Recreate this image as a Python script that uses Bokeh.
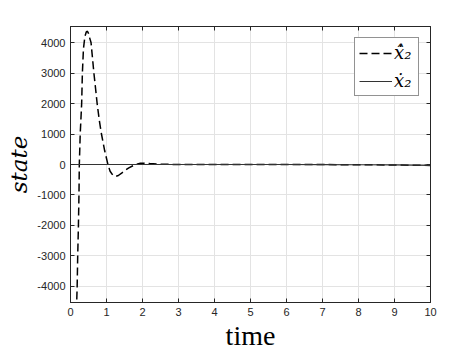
from bokeh.plotting import figure
from bokeh.models import LinearAxis, Range1d, FixedTicker, Legend, LegendItem, CustomJSTickFormatter
from bokeh.embed import file_html
from bokeh.resources import INLINE

# estimated state x2-hat-dot (dashed)
t_est = [0.0, 0.10, 0.15, 0.17, 0.185, 0.20, 0.22, 0.235, 0.245, 0.27, 0.29, 0.31, 0.33,
         0.36, 0.40, 0.44, 0.47, 0.50, 0.54, 0.57, 0.61, 0.65, 0.70, 0.74, 0.80, 0.86,
         0.95, 1.04, 1.10, 1.18, 1.25, 1.33, 1.42, 1.52, 1.62, 1.72, 1.82, 1.94, 2.05,
         2.2, 2.4, 2.7, 3.0, 4.0, 5.0, 6.0, 7.0, 8.0, 9.0, 10.0]
x2_est = [-30000, -12000, -6500, -4600, -4000, -3000, -2000, -1000, 0, 1000, 1500, 2000, 3000,
          3800, 4200, 4350, 4370, 4300, 4120, 4000, 3500, 3000, 2450, 2000, 1450, 1000,
          450, 0, -220, -360, -390, -360, -280, -190, -110, -50, 0, 40, 45,
          30, 15, 5, 0, 0, 0, 0, -3, -8, -15, -30]

# true state x2-dot (solid)
t_true = [0, 1, 2, 3, 4, 5, 6, 7, 8, 9, 9.5, 10]
x2_true = [0, 0, 0, 0, 0, 0, 0, -3, -8, -15, -22, -30]

x_ticks = [0, 1, 2, 3, 4, 5, 6, 7, 8, 9, 10]
y_ticks = [-4000, -3000, -2000, -1000, 0, 1000, 2000, 3000, 4000]

AX = "#262626"

p = figure(width=474, height=355, output_backend="svg", toolbar_location=None,
           x_range=Range1d(0, 10), y_range=Range1d(-4525, 4525),
           min_border_left=70, min_border_right=44, min_border_top=26, min_border_bottom=53)

p.background_fill_color = "white"
p.border_fill_color = "white"
p.outline_line_color = AX
p.outline_line_width = 1

r1 = p.line(t_est, x2_est, line_color="black", line_width=1.5, line_dash="8 4")
r2 = p.line(t_true, x2_true, line_color="#333333", line_width=1.2)

plain = CustomJSTickFormatter(code="return tick.toFixed(0);")

for ax in (p.xaxis[0], p.yaxis[0]):
    ax.major_tick_in = 4
    ax.major_tick_out = 0
    ax.minor_tick_in = 0
    ax.minor_tick_out = 0
    ax.axis_line_color = AX
    ax.major_tick_line_color = AX
    ax.major_label_text_font = "Liberation Sans"
    ax.major_label_text_font_size = "11px"
    ax.major_label_text_color = AX
    ax.major_label_standoff = 5
    ax.formatter = plain

p.xaxis[0].ticker = FixedTicker(ticks=x_ticks)
p.yaxis[0].ticker = FixedTicker(ticks=y_ticks)

p.xaxis[0].axis_label = "time"
p.xaxis[0].axis_label_text_font = "Liberation Serif"
p.xaxis[0].axis_label_text_font_style = "normal"
p.xaxis[0].axis_label_text_font_size = "28px"
p.xaxis[0].axis_label_text_color = "black"
p.xaxis[0].axis_label_standoff = 1

p.yaxis[0].axis_label = "state"
p.yaxis[0].axis_label_text_font = "DejaVu Serif"
p.yaxis[0].axis_label_text_font_style = "italic"
p.yaxis[0].axis_label_text_font_size = "23px"
p.yaxis[0].axis_label_text_color = "black"
p.yaxis[0].axis_label_standoff = 2

blank = CustomJSTickFormatter(code="return '';")
top = LinearAxis(ticker=FixedTicker(ticks=x_ticks), formatter=blank,
                 major_tick_in=4, major_tick_out=0, minor_tick_in=0, minor_tick_out=0,
                 axis_line_color=AX, major_tick_line_color=AX)
right = LinearAxis(ticker=FixedTicker(ticks=y_ticks), formatter=blank,
                   major_tick_in=4, major_tick_out=0, minor_tick_in=0, minor_tick_out=0,
                   axis_line_color=AX, major_tick_line_color=AX)
p.add_layout(top, "above")
p.add_layout(right, "right")

p.xgrid.ticker = FixedTicker(ticks=x_ticks)
p.ygrid.ticker = FixedTicker(ticks=y_ticks)
p.xgrid.grid_line_color = "#e3e3e3"
p.ygrid.grid_line_color = "#e3e3e3"

legend = Legend(items=[LegendItem(label="x\u0302\u0307\u2082", renderers=[r1]),
                       LegendItem(label="x\u0307\u2082", renderers=[r2])],
                location="top_right", margin=11, padding=4, spacing=7,
                glyph_width=33, glyph_height=20, label_height=20, label_standoff=2,
                label_text_font="DejaVu Serif", label_text_font_style="italic",
                label_text_font_size="18px", label_text_color="black",
                border_line_color=AX, border_line_width=1,
                background_fill_color="white", background_fill_alpha=1)
p.add_layout(legend)

open("out.html", "w").write(file_html(p, INLINE))
